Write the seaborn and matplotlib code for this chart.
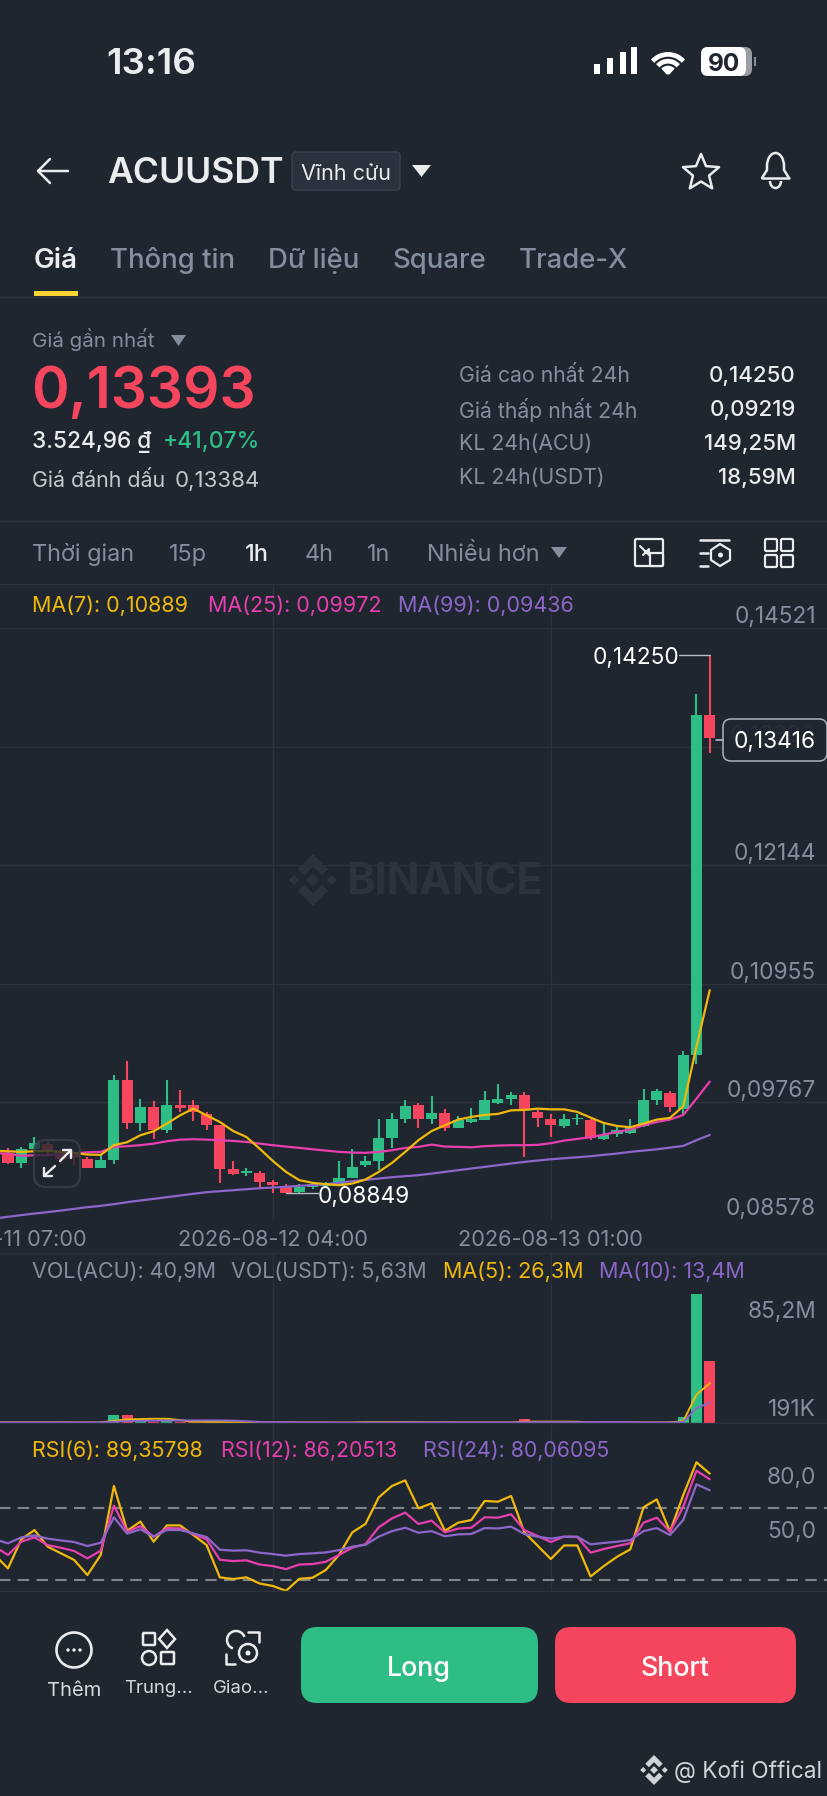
import numpy as np
import pandas as pd
import seaborn as sns
import matplotlib.pyplot as plt
from matplotlib.patches import FancyBboxPatch, Polygon, Circle, Arc, Rectangle

# candles, one hour each
opens = [.09256,.09155,.09299,.09349,.09266,.09256,.09199,.09102,.09182,.09991,.09556,.09717,.09490,.09734,.09737,.09643,.09536,.09089,
         .09058,.09058,.08965,.08928,.08865,.08915,.08925,.08925,.09008,.09132,.09175,.09406,.09600,.09734,.09600,.09653,.09510,.09567,
         .09590,.09760,.09794,.09834,.09667,.09600,.09523,.09593,.09590,.09393,.09443,.09456,.09523,.09790,.09857,.09700,.10242,.13654]
closes = [.09155,.09296,.09359,.09282,.09199,.09216,.09109,.09182,.09991,.09556,.09717,.09483,.09734,.09707,.09667,.09540,.09092,.09048,
          .09075,.08968,.08931,.08855,.08911,.08948,.08955,.09008,.09115,.09172,.09409,.09597,.09727,.09600,.09657,.09510,.09583,.09593,
          .09784,.09800,.09841,.09690,.09607,.09533,.09597,.09607,.09409,.09433,.09490,.09510,.09790,.09874,.09717,.10235,.13654,.13416]
highs = [.09309,.09316,.09416,.09366,.09282,.09266,.09216,.09232,.10041,.10178,.09797,.09777,.09991,.09884,.09790,.09667,.09536,.09175,
         .09102,.09075,.08982,.08942,.08948,.08955,.08965,.09175,.09299,.09222,.09597,.09657,.09790,.09757,.09830,.09700,.09623,.09707,
         .09877,.09944,.09867,.09864,.09683,.09643,.09650,.09643,.09600,.09550,.09516,.09600,.09901,.09901,.09874,.10278,.13862,.14250]
lows = [.09142,.09109,.09282,.09232,.09149,.09132,.09102,.09102,.09149,.09500,.09476,.09399,.09456,.09667,.09573,.09483,.08958,.09032,
        .09022,.08908,.08855,.08849,.08849,.08891,.08915,.08925,.09002,.09115,.09082,.09309,.09556,.09510,.09550,.09476,.09503,.09556,
        .09590,.09750,.09737,.09216,.09516,.09416,.09503,.09536,.09383,.09389,.09416,.09443,.09516,.09734,.09667,.09643,.10152,.13270]
volume = [.4,.4,.4,.3,.3,.3,.4,.4,5.1,5.5,1.2,.9,1.1,.6,.4,.5,1.0,.4,.3,.4,.3,.4,.3,.2,.2,.4,.5,.3,.9,.6,.4,.4,.3,.4,.3,.2,.4,.4,.3,2.9,
          .4,.4,.3,.2,.5,.3,.2,.2,.7,.4,.4,4.0,85.2,40.9]

# the lines start one hour earlier, just off the left edge
ma7 = [.09276,.09272,.09266,.09272,.09276,.09266,.09256,.09239,.09236,.09333,.09363,.09433,.09473,.09550,.09633,.09700,.09633,.09566,.09476,
       .09416,.09299,.09175,.09065,.08982,.08955,.08942,.08931,.08948,.08988,.09065,.09155,.09266,.09383,.09476,.09533,.09590,.09617,.09637,
       .09647,.09683,.09687,.09700,.09693,.09693,.09667,.09610,.09556,.09526,.09513,.09550,.09590,.09607,.09724,.10324,.10889]
ma25 = [.09252,.09249,.09226,.09232,.09232,.09242,.09249,.09262,.09266,.09316,.09323,.09333,.09349,.09373,.09389,.09393,.09389,.09383,.09376,
        .09366,.09349,.09333,.09319,.09306,.09292,.09279,.09266,.09259,.09256,.09266,.09282,.09306,.09316,.09339,.09319,.09316,.09312,.09323,
        .09329,.09333,.09333,.09336,.09353,.09379,.09396,.09413,.09439,.09466,.09490,.09533,.09566,.09590,.09637,.09800,.09972]
ma99 = [.08597,.08614,.08631,.08647,.08661,.08677,.08694,.08711,.08724,.08741,.08761,.08778,.08794,.08811,.08828,.08845,.08861,.08871,.08881,
        .08891,.08901,.08908,.08915,.08925,.08931,.08942,.08955,.08972,.08985,.08998,.09012,.09022,.09032,.09048,.09065,.09082,.09099,.09115,
        .09132,.09149,.09165,.09179,.09192,.09202,.09212,.09222,.09236,.09249,.09266,.09279,.09292,.09309,.09326,.09383,.09436]
vol_ma5 = [.4,.4,.4,.4,.4,.4,.3,.3,.4,1.4,2.4,2.6,2.8,2.8,1.9,.8,.7,.6,.5,.5,.5,.4,.4,.3,.3,.3,.3,.3,.5,.5,.6,.5,.5,.4,.4,.3,.3,.3,.3,.3,
           .9,.9,.9,.9,.8,.4,.3,.3,.3,.3,.3,.4,1.2,18.8,26.3]
vol_ma10 = [.4,.4,.4,.4,.4,.4,.4,.4,.4,.8,1.3,1.4,1.5,1.6,1.7,1.7,1.7,1.7,1.6,1.2,.7,.6,.5,.4,.4,.4,.3,.3,.3,.4,.4,.4,.4,.4,.4,.4,.4,.4,.4,.4,
            .6,.6,.6,.6,.5,.6,.6,.6,.6,.4,.4,.3,.7,9.9,13.4]
rsi6 = [44.0,36.5,52.7,57.9,48.6,44.9,41.2,32.8,44.0,82.5,57.5,62.6,51.4,60.5,60.5,55.1,49.5,31.5,30.6,31.5,28.1,26.7,24.0,30.7,31.3,35.6,44.0,
        56.6,61.3,76.1,82.5,85.6,70.0,72.8,57.5,62.0,63.5,74.1,73.7,76.9,56.6,49.2,41.7,49.3,49.3,32.0,37.8,43.0,47.1,70.6,75.0,57.0,77.4,95.7,89.36]
rsi12 = [48.6,44.0,51.4,53.8,49.5,48.0,46.2,42.1,46.4,71.5,57.0,60.1,54.2,59.0,58.8,55.7,52.7,41.3,40.6,41.0,38.7,37.8,36.1,38.7,38.9,40.2,44.0,
         48.0,50.1,59.4,64.4,67.6,61.3,63.1,56.6,58.7,59.2,65.0,64.8,66.7,57.9,54.6,51.2,54.2,54.0,45.3,47.3,49.0,50.5,62.0,64.8,57.0,70.9,91.0,86.21]
rsi24 = [52.7,50.5,53.8,54.9,53.1,52.1,51.2,49.0,50.8,65.0,55.9,58.3,54.2,57.9,57.9,56.0,54.0,46.9,46.4,46.6,45.3,44.5,43.6,44.5,44.9,45.4,46.7,
         48.6,49.7,54.2,57.3,59.2,56.4,57.3,54.4,55.5,55.7,59.0,58.8,59.8,55.7,54.2,53.1,54.2,54.2,49.9,50.7,51.4,52.3,57.3,59.0,55.1,63.5,83.4,80.06]

price_ticks = [.14521, .13333, .12144, .10955, .09767, .08578]
price_labels = ['0,14521', '0,13333', '0,12144', '0,10955', '0,09767', '0,08578']
time_ticks = [-1, 20, 41]
time_labels = ['2026-08-11 07:00', '2026-08-12 04:00', '2026-08-13 01:00']

BG = '#1f2630'
GRID = '#2b323d'
GREEN = '#2ebd85'
RED = '#f6465d'
YELLOW = '#f0b90b'
PINK = '#e83fae'
PURPLE = '#8c66c8'
GRAY = '#848e9c'
WHITE = '#eaecef'

sns.set_theme(style='dark')
plt.rcParams['font.family'] = ['Inter', 'Noto Sans', 'DejaVu Sans']
plt.rcParams['text.color'] = WHITE

W, H = 828, 1796
fig = plt.figure(figsize=(W / 100, H / 100), dpi=100, facecolor=BG)

# axes start 10 px off the left edge so the tick at hour -1 still exists
XLIM = ((-10 - 8) / 13.24, (W - 8) / 13.24)


def px_axes(y0, y1, z=1):
    ax = fig.add_axes([-10 / W, 1 - y1 / H, (W + 10) / W, (y1 - y0) / H], zorder=z)
    ax.set_facecolor('none')
    for s in ax.spines.values():
        s.set_visible(False)
    ax.tick_params(length=0, labelleft=False)
    ax.grid(True, color=GRID, lw=1)
    return ax


def finish_x(ax, labels=None):
    ax.set_xticks(time_ticks)
    ax.set_xticklabels(labels if labels else [])
    ax.set_xlim(*XLIM)
    ax.set_xlabel('')
    ax.set_ylabel('')


def right_label(ax, text, val, dy, color=GRAY):
    ax.annotate(text, xy=(1, val), xycoords=('axes fraction', 'data'), xytext=(-12, dy), textcoords='offset pixels',
                ha='right', va='center', color=color, fontsize=16.3, annotation_clip=False)


line_x = list(range(-1, 54))
hours = list(range(54))
candles = pd.DataFrame({'h': hours, 'o': opens, 'c': closes, 'hi': highs, 'lo': lows, 'vol': volume})
candles['col'] = np.where(candles['c'] >= candles['o'], 'up', 'down')
pal = {'up': GREEN, 'down': RED}

bg = fig.add_axes([0, 0, 1, 1], zorder=0)
ui = fig.add_axes([0, 0, 1, 1], zorder=5)
for a in (bg, ui):
    a.set_xlim(0, W)
    a.set_ylim(H, 0)
    a.axis('off')

# price panel
ax = px_axes(584, 1220.4)
ax.vlines(candles['h'], candles['lo'], candles['hi'], colors=candles['col'].map(pal), lw=1.5, zorder=3)
ax.bar(candles['h'], (candles['c'] - candles['o']).abs(), bottom=candles[['o', 'c']].min(axis=1), width=0.84,
       color=candles['col'].map(pal), linewidth=0, zorder=3)
for vals, col in ((ma99, PURPLE), (ma25, PINK), (ma7, YELLOW)):
    sns.lineplot(x=line_x, y=vals, color=col, lw=1.6, ax=ax, estimator=None, sort=False, legend=False, zorder=4)
ax.set_ylim(.08578, .14967)
ax.set_yticks(price_ticks)
finish_x(ax, time_labels)
ax.tick_params(axis='x', pad=7, labelbottom=True, labelsize=15.7, labelcolor=GRAY)
for t, lab in zip(price_ticks, price_labels):
    right_label(ax, lab, t, 11)

# volume panel
vx = px_axes(1253, 1423)
sns.barplot(data=candles, x='h', y='vol', hue='col', palette=pal, native_scale=True, dodge=False, width=0.84, saturation=1,
            linewidth=0, legend=False, ax=vx, zorder=3)
sns.lineplot(x=line_x, y=vol_ma5, color=YELLOW, lw=1.4, ax=vx, estimator=None, legend=False, zorder=4)
sns.lineplot(x=line_x, y=vol_ma10, color=PURPLE, lw=1.4, ax=vx, estimator=None, legend=False, zorder=4)
vx.set_ylim(0, 112.6)
vx.set_yticks([0])
finish_x(vx)
right_label(vx, '85,2M', 85.2, -18)
right_label(vx, '191K', .191, 13)

# rsi panel
rx = px_axes(1423, 1591)
for vals, col in ((rsi6, YELLOW), (rsi12, PINK), (rsi24, PURPLE)):
    sns.lineplot(x=line_x, y=vals, color=col, lw=1.6, ax=rx, estimator=None, sort=False, legend=False, zorder=4)
for level in (70, 30):
    rx.axhline(level, color='#80858c', lw=1.5, dashes=(5.5, 3.5), zorder=2)
rx.set_ylim(23.9, 117.6)
rx.set_yticks([])
finish_x(rx)
right_label(rx, '80,0', 80, 12)
right_label(rx, '50,0', 50, 12)


def txt(x, y, s, size, color=WHITE, ha='left', weight='normal', target=None):
    # centre of the digits sits a little above the box centre
    (target or ui).text(x, y + 4.8, s, fontsize=size, color=color, ha=ha, va='center', fontweight=weight)


def stroke(xs, ys, color=WHITE, lw=1.8):
    ui.plot(xs, ys, color=color, lw=lw, solid_capstyle='round', solid_joinstyle='round')


def tri(x0, x1, y0, y1, color):
    ui.add_patch(Polygon([(x0, y0), (x1, y0), ((x0 + x1) / 2, y1)], color=color, lw=0))


def rbox(x0, y0, x1, y1, r, fc='none', ec='none', lw=1.0, target=None, alpha=None):
    (target or ui).add_patch(FancyBboxPatch((x0 + r, y0 + r), x1 - x0 - 2 * r, y1 - y0 - 2 * r, boxstyle=f'round,pad={r}',
                                            fc=fc, ec=ec, lw=lw, alpha=alpha))


def logo(cx, cy, s, color, target):
    for dx, dy, k in ((0, 0, .26), (-.72, 0, .2), (.72, 0, .2)):
        target.add_patch(Polygon([(cx + dx * s - k * s, cy), (cx + dx * s, cy - k * s), (cx + dx * s + k * s, cy), (cx + dx * s, cy + k * s)], color=color, lw=0))
    for sgn in (-1, 1):
        pts = [(0, 1), (.58, .42), (.34, .18), (0, .52), (-.34, .18), (-.58, .42)]
        target.add_patch(Polygon([(cx + a * s, cy - sgn * b * s) for a, b in pts], color=color, lw=0))


# watermark sits below the chart
logo(313, 880, 26, '#2c333e', bg)
txt(346, 878, 'BINANCE', 31, '#2c333e', weight='bold', target=bg)

# status bar
txt(106, 60, '13:16', 26.5, WHITE, weight='semibold')
for bx, bh in zip((594, 607, 620, 631), (10, 16, 22, 27)):
    ui.add_patch(Rectangle((bx, 74 - bh), 6.5, bh, color='white', lw=0))
for r in (33, 22, 11):
    ui.add_patch(Arc((668, 75), r * 1.25, r * 1.25, theta1=222, theta2=318, color='white', lw=3.4))
ui.add_patch(Circle((668, 71), 3.5, color='white', lw=0))
rbox(701, 47, 752, 76, 7, fc='#9a9da3')
rbox(701, 47, 746, 76, 7, fc='white')
ui.add_patch(Rectangle((754, 57), 2, 9, color='#8b8e94', lw=0))
txt(724, 60, '90', 17.5, '#1f2630', ha='center', weight='bold')

# header
stroke([68, 38, 50], [171, 171, 159])
stroke([38, 50], [171, 183])
txt(107, 169, 'ACUUSDT', 25.6, WHITE, weight='semibold')
rbox(292, 152, 400, 190, 4, fc='#2b323d', ec='#3a424e')
txt(346, 169, 'Vĩnh cửu', 15.5, WHITE, ha='center')
tri(412, 431, 165, 177, WHITE)
ang = np.linspace(-np.pi / 2, 1.5 * np.pi, 11)[:-1]
rad = np.where(np.arange(10) % 2 == 0, 19, 8.5)
ui.add_patch(Polygon(np.c_[701 + rad * np.cos(ang), 173 + rad * np.sin(ang)], fc='none', ec=WHITE, lw=1.8, joinstyle='round'))
stroke([762, 767, 767], [178, 170, 166])
stroke([789, 784, 784], [178, 170, 166])
ui.add_patch(Arc((775.5, 166), 17, 26, theta1=180, theta2=360, color=WHITE, lw=1.8))
stroke([762, 789], [178, 178])
ui.add_patch(Arc((775.5, 181), 11, 14, theta1=0, theta2=180, color=WHITE, lw=1.8))

# tabs
txt(34, 256, 'Giá', 20, WHITE, weight='semibold')
for x, s in ((110, 'Thông tin'), (268, 'Dữ liệu'), (392, 'Square'), (519, 'Trade-X')):
    txt(x, 256, s, 19.8, GRAY, weight='medium')
ui.add_patch(Rectangle((34, 291), 44, 5, color='#fcd535', lw=0))
for y in (297, 521, 584, 1253, 1423, 1591):
    ui.plot([0, W], [y, y], color=GRID, lw=1)

# summary
txt(32, 335, 'Giá gần nhất', 14.8, GRAY)
tri(171, 186, 335, 346, GRAY)
txt(31, 388, '0,13393', 41, RED, weight='semibold')
txt(32, 437, '3.524,96 ₫', 16.3, WHITE, weight='medium')
txt(163, 437, '+41,07%', 16.5, GREEN, weight='medium')
txt(32, 476, 'Giá đánh dấu', 15.4, '#c4c8ce')
txt(175, 476, '0,13384', 16, '#c4c8ce')
for y, lab, val in ((371, 'Giá cao nhất 24h', '0,14250'), (405, 'Giá thấp nhất 24h', '0,09219'),
                    (439, 'KL 24h(ACU)', '149,25M'), (473, 'KL 24h(USDT)', '18,59M')):
    txt(459, y, lab, 15.3, GRAY)
    txt(796, y, val, 16, WHITE, ha='right', weight='medium')

# interval row
for x, s, c in ((32, 'Thời gian', GRAY), (169, '15p', GRAY), (245, '1h', WHITE), (305, '4h', GRAY), (367, '1n', GRAY), (427, 'Nhiều hơn', GRAY)):
    txt(x, 550, s, 16.9, c, weight='medium' if c == WHITE else 'normal')
tri(551, 567, 547, 558, GRAY)
rbox(635, 539, 663, 566, 1.5, ec=WHITE, lw=1.6)
rbox(650, 553, 663, 566, 1, fc=BG, ec=WHITE, lw=1.6)
stroke([640, 649, 649, 643], [546, 555, 549, 555], lw=1.5)
stroke([700, 729], [540, 540], lw=1.8)
stroke([700, 708], [553, 553], lw=1.8)
stroke([700, 708], [566, 566], lw=1.8)
ui.add_patch(Polygon([(720, 544), (730, 550), (730, 560), (720, 566), (711, 560), (711, 550)], fc='none', ec=WHITE, lw=1.6))
ui.add_patch(Circle((720.5, 555), 2.5, color=WHITE, lw=0))
for bx, by in ((765, 539), (781, 539), (765, 555), (781, 555)):
    rbox(bx, by, bx + 12, by + 12, 1.5, ec=WHITE, lw=1.6)

# legends
for x, s, c in ((32, 'MA(7): 0,10889', YELLOW), (208, 'MA(25): 0,09972', PINK), (398, 'MA(99): 0,09436', PURPLE)):
    txt(x, 601, s, 15.5, c)
for x, s, c in ((32, 'VOL(ACU): 40,9M', GRAY), (231, 'VOL(USDT): 5,63M', GRAY), (443, 'MA(5): 26,3M', YELLOW), (599, 'MA(10): 13,4M', PURPLE)):
    txt(x, 1267, s, 15.5, c)
for x, s, c in ((32, 'RSI(6): 89,35798', YELLOW), (221, 'RSI(12): 86,20513', PINK), (423, 'RSI(24): 80,06095', PURPLE)):
    txt(x, 1446, s, 15.4, c)

# price callouts
txt(593, 653, '0,14250', 16.3, 'white')
ui.plot([679, 710], [655, 655], color='#b7bcc4', lw=1)
txt(318, 1192, '0,08849', 16.3, 'white')
ui.plot([286, 318], [1193, 1193], color='#b7bcc4', lw=1)
ui.plot([716, 723], [740, 740], color='#b7bcc4', lw=1.2)
rbox(723, 719, 827, 761, 8, fc=BG, ec='#b7bcc4', lw=1.1, alpha=.93)
txt(775, 737, '0,13416', 16.3, 'white', ha='center')

# expand button over the chart
rbox(34, 1140, 80, 1187, 12, fc=BG, ec='#3a414c', lw=1.6, alpha=.78)
stroke([60, 71], [1161, 1150], lw=1.7)
stroke([63, 71, 71], [1150, 1150, 1158], lw=1.7)
stroke([44, 55], [1176, 1166], lw=1.7)
stroke([44, 44, 52], [1168, 1176, 1176], lw=1.7)

# bottom bar
ui.add_patch(Circle((74, 1650), 17.5, fc='none', ec=WHITE, lw=1.9))
for dx in (-6, 0, 6):
    ui.add_patch(Circle((74 + dx, 1650), 1.7, color=WHITE, lw=0))
rbox(143, 1633, 155, 1645, 1, ec=WHITE, lw=1.8)
ui.add_patch(Polygon([(167, 1630), (175, 1639), (167, 1648), (159, 1639)], fc='none', ec=WHITE, lw=1.8))
ui.add_patch(Circle((149, 1658), 7, fc='none', ec=WHITE, lw=1.8))
rbox(161, 1652, 174, 1664, 1, ec=WHITE, lw=1.8)
ui.add_patch(Arc((236, 1640), 18, 18, theta1=110, theta2=340, color=WHITE, lw=1.8))
ui.add_patch(Circle((248, 1653), 9, fc='none', ec=WHITE, lw=1.8))
ui.add_patch(Circle((248, 1653), 2.5, color=WHITE, lw=0))
stroke([248, 259, 259], [1632, 1632, 1642], lw=1.8)
stroke([226, 226, 235], [1654, 1664, 1664], lw=1.8)
txt(74, 1686, 'Thêm', 14.5, '#d5d8dc', ha='center')
txt(124, 1684, 'Trung...', 13.4, '#d5d8dc')
txt(213, 1684, 'Giao...', 13.4, '#d5d8dc')
rbox(301, 1627, 538, 1703, 16, fc=GREEN)
rbox(555, 1627, 796, 1703, 16, fc=RED)
txt(419, 1664, 'Long', 19.3, 'white', ha='center', weight='medium')
txt(675, 1664, 'Short', 19.3, 'white', ha='center', weight='medium')
logo(654, 1770, 15, '#d0d3d8', ui)
txt(674, 1767, '@ Kofi Offical', 16.3, '#d0d3d8')

fig.savefig('out.png', dpi=100, facecolor=BG)
